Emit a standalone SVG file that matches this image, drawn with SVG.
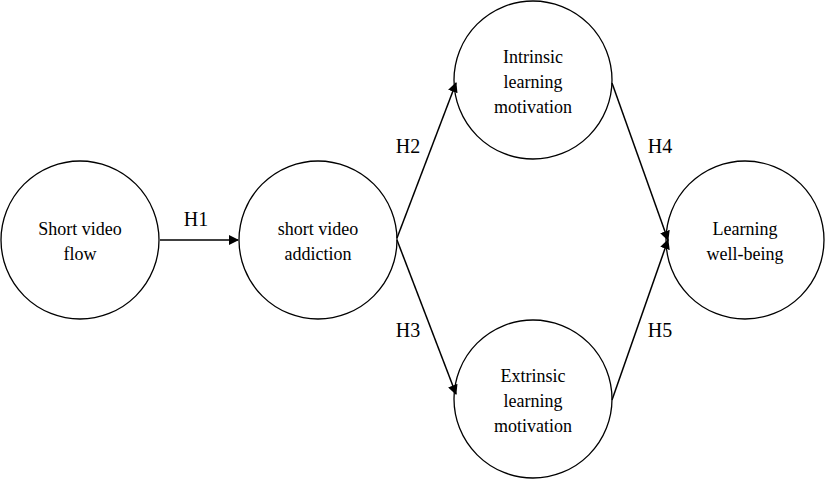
<svg xmlns="http://www.w3.org/2000/svg" width="829" height="479" viewBox="0 0 829 479">
<style>
circle{fill:#fff;stroke:#000;stroke-width:1.3}
text{font-family:"Liberation Serif",serif;font-size:18px;fill:#000;text-anchor:middle}
.c text{font-size:20px}
.c line{stroke:#000;stroke-width:1.5}
</style>
<defs><marker id="a" markerWidth="10" markerHeight="10" refX="9" refY="5" orient="auto" markerUnits="userSpaceOnUse"><path d="M0,0 L10,5 L0,10 Z"/></marker></defs>
<rect width="829" height="479" fill="#fff"/>
<g id="n1"><circle cx="80" cy="240" r="79"/><text x="80" y="235">Short video</text><text x="80" y="260">flow</text></g>
<g id="n2"><circle cx="318" cy="240" r="79"/><text x="318" y="235">short video</text><text x="318" y="260">addiction</text></g>
<g id="n3"><circle cx="533" cy="80" r="79"/><text x="533" y="63">Intrinsic</text><text x="533" y="88">learning</text><text x="533" y="113">motivation</text></g>
<g id="n4"><circle cx="533" cy="399" r="79"/><text x="533" y="382">Extrinsic</text><text x="533" y="407">learning</text><text x="533" y="432">motivation</text></g>
<g id="n5"><circle cx="745" cy="240" r="79"/><text x="745" y="235">Learning</text><text x="745" y="260">well-being</text></g>
<g class="c">
<line x1="160" y1="240" x2="238" y2="240" marker-end="url(#a)"/>
<line x1="397" y1="238" x2="456" y2="83" marker-end="url(#a)"/>
<line x1="397" y1="240" x2="456" y2="394" marker-end="url(#a)"/>
<line x1="612" y1="83" x2="668" y2="240" marker-end="url(#a)"/>
<line x1="612" y1="400" x2="668" y2="240" marker-end="url(#a)"/>
<text x="196" y="226">H1</text><text x="408" y="153">H2</text><text x="408" y="337">H3</text><text x="660" y="153">H4</text><text x="660" y="337">H5</text>
</g>
</svg>
